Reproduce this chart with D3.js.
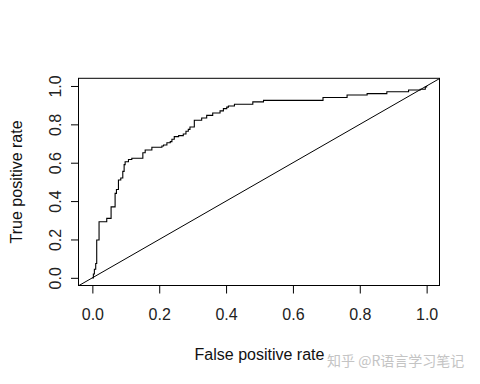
<!DOCTYPE html>
<html>
<head>
<meta charset="utf-8">
<script src="https://cdn.jsdelivr.net/npm/d3@7"></script>
<style>
  html, body { margin: 0; padding: 0; background: #fff; }
  svg { display: block; font-family: "Liberation Sans", Arial, sans-serif; }
</style>
</head>
<body>
<div id="chart"></div>
<script>
// ROC curve: left end of each horizontal run
const fpr = [0.000, 0.003, 0.006, 0.010, 0.013, 0.020, 0.043, 0.056, 0.068, 0.072,
             0.078, 0.085, 0.091, 0.095, 0.098, 0.108, 0.118, 0.151, 0.158, 0.178,
             0.208, 0.213, 0.223, 0.233, 0.238, 0.245, 0.258, 0.272, 0.280, 0.287,
             0.292, 0.305, 0.327, 0.342, 0.360, 0.382, 0.392, 0.402, 0.407, 0.425,
             0.480, 0.512, 0.690, 0.762, 0.822, 0.881, 0.946, 0.981, 0.996, 1.000];
const tpr = [0.000, 0.020, 0.045, 0.075, 0.197, 0.292, 0.310, 0.370, 0.440, 0.460,
             0.510, 0.520, 0.555, 0.590, 0.605, 0.617, 0.623, 0.652, 0.666, 0.681,
             0.687, 0.692, 0.704, 0.710, 0.722, 0.736, 0.741, 0.750, 0.764, 0.774,
             0.786, 0.821, 0.833, 0.847, 0.859, 0.870, 0.882, 0.890, 0.896, 0.905,
             0.917, 0.925, 0.940, 0.953, 0.960, 0.970, 0.979, 0.983, 0.995, 1.000];
const ticks = [0, 0.2, 0.4, 0.6, 0.8, 1.0];
const xTitle = "False positive rate";
const yTitle = "True positive rate";
const watermark = "知乎 @R语言学习笔记";

const W = 480, H = 384;
const box = { left: 79, right: 440, top: 78.3, bottom: 285.5 };

const svg = d3.select("#chart").append("svg")
  .attr("width", W).attr("height", H);

// R style: pad the data range by 4% on each side
const x = d3.scaleLinear().domain([-0.04, 1.04]).range([box.left, box.right]);
const y = d3.scaleLinear().domain([-0.04, 1.04]).range([box.bottom, box.top]);

const fmt = d3.format(".1f");

// x axis
const xAxisG = svg.append("g")
  .attr("transform", `translate(0,${box.bottom})`)
  .call(d3.axisBottom(x).tickValues(ticks).tickSize(8).tickPadding(15.5).tickFormat(fmt));
xAxisG.select(".domain").remove();
xAxisG.selectAll("line").attr("stroke", "#000");
xAxisG.selectAll("text")
  .attr("fill", "#222")
  .style("font-size", "16px")
  .style("font-family", "Liberation Sans, Arial, sans-serif");

// y axis, labels parallel to axis
const yAxisG = svg.append("g")
  .attr("transform", `translate(${box.left},0)`)
  .call(d3.axisLeft(y).tickValues(ticks).tickSize(8).tickFormat(fmt));
yAxisG.select(".domain").remove();
yAxisG.selectAll("line").attr("stroke", "#000");
yAxisG.selectAll("text")
  .attr("x", null).attr("dy", null)
  .attr("transform", `translate(${61 - box.left},0) rotate(-90)`)
  .attr("text-anchor", "middle")
  .attr("fill", "#222")
  .style("font-size", "16px")
  .style("font-family", "Liberation Sans, Arial, sans-serif");

// plot box
svg.append("rect")
  .attr("x", box.left - 0.5).attr("y", box.top)
  .attr("width", box.right - box.left).attr("height", box.bottom - box.top)
  .attr("fill", "none").attr("stroke", "#000").attr("stroke-width", 1);

// diagonal abline(0,1) over full region
const clip = svg.append("clipPath").attr("id", "clip").append("rect")
  .attr("x", box.left).attr("y", box.top)
  .attr("width", box.right - box.left).attr("height", box.bottom - box.top);

svg.append("line")
  .attr("clip-path", "url(#clip)")
  .attr("x1", x(-0.04)).attr("y1", y(-0.04))
  .attr("x2", x(1.04)).attr("y2", y(1.04))
  .attr("stroke", "#000").attr("stroke-width", 1);

// ROC step curve
const pts = fpr.map((f, i) => [f, tpr[i]]);
const line = d3.line()
  .x(d => x(d[0]))
  .y(d => y(d[1]))
  .curve(d3.curveStepAfter);

svg.append("path")
  .datum(pts)
  .attr("d", line)
  .attr("fill", "none")
  .attr("stroke", "#000")
  .attr("stroke-width", 1.1);

// titles
svg.append("text")
  .attr("x", (box.left + box.right) / 2).attr("y", 360)
  .attr("text-anchor", "middle")
  .attr("fill", "#111")
  .style("font-size", "16px")
  .text(xTitle);

svg.append("text")
  .attr("transform", `translate(22,${(box.top + box.bottom) / 2}) rotate(-90)`)
  .attr("text-anchor", "middle")
  .attr("fill", "#111")
  .style("font-size", "16px")
  .text(yTitle);

// watermark
svg.append("text")
  .attr("x", 327).attr("y", 366)
  .attr("fill", "#c4c4c4")
  .style("font-size", "14px")
  .style("font-family", "Noto Sans CJK SC, sans-serif")
  .text(watermark);
</script>
</body>
</html>
